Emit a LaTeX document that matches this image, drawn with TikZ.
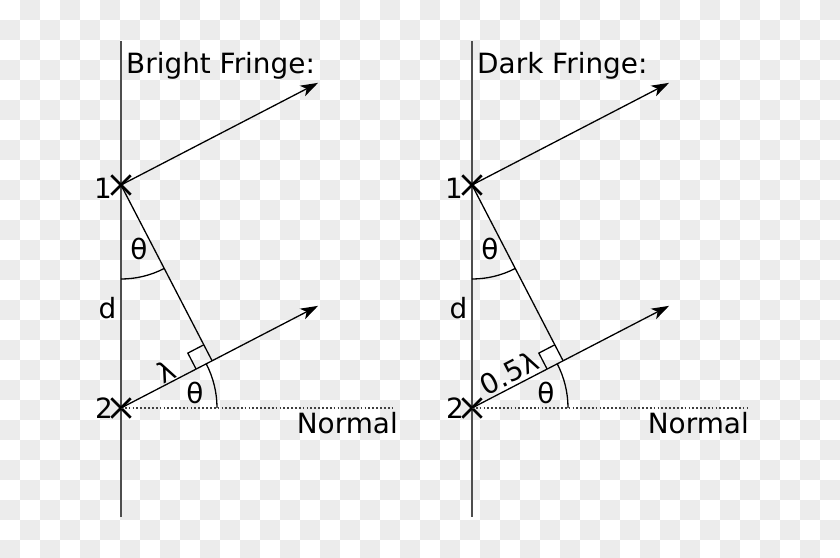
\documentclass[tikz,border=0pt]{standalone}
\usepackage{fontspec}
\setmainfont{DejaVu Sans}
\usepackage{tikz}
\usetikzlibrary{arrows.meta, calc, shapes.misc}
\definecolor{checkgray}{HTML}{ECECEC}
\definecolor{wallgray}{HTML}{4D4D4D}
\tikzstyle{slit_wall}    = [draw=wallgray, line width=1.6pt]
\tikzstyle{slit_mark}    = [cross out, draw=black, line width=2.3pt, minimum size=0.5cm, inner sep=0pt]
\tikzstyle{ray}          = [line width=1.1pt, -{Stealth[length=15pt, width=10pt, inset=4pt]}]
\tikzstyle{construction} = [line width=1.1pt]
\tikzstyle{normal_line}  = [draw=black!75, line width=0.9pt, dash pattern=on 1.5pt off 1.8pt]
\tikzstyle{label_text}   = [inner sep=0pt, font=\fontsize{23.8}{28}\selectfont]

\begin{document}
\begin{tikzpicture}[x=0.03cm, y=0.03cm]
      % Background
      \useasboundingbox (0,0) rectangle (840,-557);
      \begin{scope}
        \clip (0,0) rectangle (840,-557);
        \fill[white] (0,0) rectangle (840,-557);
        \foreach \i in {0,...,41}{
          \foreach \j in {0,...,27}{
            \ifodd\numexpr\i+\j\relax
              \fill[checkgray] (20*\i,-20*\j) rectangle ++(20,-20);
            \fi
          }
        }
      \end{scope}

      % Walls
      \coordinate (bright_top)    at (121,-41);
      \coordinate (bright_bottom) at (121,-517);
      \coordinate (dark_top)      at (472,-41);
      \coordinate (dark_bottom)   at (472,-517);
      \draw [slit_wall] (bright_top) -- (bright_bottom);
      \draw [slit_wall] (dark_top)   -- (dark_bottom);

      % Nodes
      %% Bright fringe
      \node (bright_one) [slit_mark] at (121,-185) {};
      \node (bright_two) [slit_mark] at (121,-408) {};
      \coordinate (bright_tip_one)    at ($(bright_one)+(27.4:222)$);
      \coordinate (bright_tip_two)    at ($(bright_two)+(27.4:222)$);
      \coordinate (bright_foot)       at ($(bright_two)+(27.4:102.6)$);
      \coordinate (bright_normal_end) at (395,-408);
      %% Dark fringe
      \node (dark_one) [slit_mark] at (472,-185) {};
      \node (dark_two) [slit_mark] at (472,-408) {};
      \coordinate (dark_tip_one)    at ($(dark_one)+(27.4:222)$);
      \coordinate (dark_tip_two)    at ($(dark_two)+(27.4:222)$);
      \coordinate (dark_foot)       at ($(dark_two)+(27.4:102.6)$);
      \coordinate (dark_normal_end) at (747,-408);

      % Lines
      \draw [normal_line]  (bright_two.center) -- (bright_normal_end);
      \draw [ray]          (bright_one.center) -- (bright_tip_one);
      \draw [ray]          (bright_two.center) -- (bright_tip_two);
      \draw [construction] (bright_one.center) -- (bright_foot);
      \draw [construction] ($(bright_foot)+(207.4:18)$) -- ++(117.4:18) -- ++(27.4:18);
      \draw [construction] ($(bright_one.center)+(-90:94)$) arc[start angle=-90, end angle=-62.6, radius=94];
      \draw [construction] ($(bright_two.center)+(0:96)$)   arc[start angle=0, end angle=27.4, radius=96];

      \draw [normal_line]  (dark_two.center) -- (dark_normal_end);
      \draw [ray]          (dark_one.center) -- (dark_tip_one);
      \draw [ray]          (dark_two.center) -- (dark_tip_two);
      \draw [construction] (dark_one.center) -- (dark_foot);
      \draw [construction] ($(dark_foot)+(207.4:18)$) -- ++(117.4:18) -- ++(27.4:18);
      \draw [construction] ($(dark_one.center)+(-90:94)$) arc[start angle=-90, end angle=-62.6, radius=94];
      \draw [construction] ($(dark_two.center)+(0:96)$)   arc[start angle=0, end angle=27.4, radius=96];

      % Labels
      \node (bright_title)        [label_text, anchor=base west] at (126,-73)  {Bright Fringe:};
      \node (bright_one_label)    [label_text, anchor=base east] at (112,-198) {1};
      \node (bright_two_label)    [label_text, anchor=base east] at (113,-418) {2};
      \node (bright_d)            [label_text, anchor=base]      at (107.5,-318) {d};
      \node (bright_theta_top)    [label_text]                   at (139,-249) {θ};
      \node (bright_theta_bottom) [label_text]                   at (195,-393) {θ};
      \node (bright_lambda)       [label_text, rotate=27.4]      at (166,-371) {λ};
      \node (bright_normal)       [label_text, anchor=base east] at (398,-433) {Normal};

      \node (dark_title)          [label_text, anchor=base west] at (477,-73)  {Dark Fringe:};
      \node (dark_one_label)      [label_text, anchor=base east] at (463,-198) {1};
      \node (dark_two_label)      [label_text, anchor=base east] at (464,-418) {2};
      \node (dark_d)              [label_text, anchor=base]      at (458.5,-318) {d};
      \node (dark_theta_top)      [label_text]                   at (490,-249) {θ};
      \node (dark_theta_bottom)   [label_text]                   at (546,-393) {θ};
      \node (dark_lambda)         [label_text, rotate=27.4]      at (509,-373) {0.5λ};
      \node (dark_normal)         [label_text, anchor=base east] at (749,-433) {Normal};
    \end{tikzpicture}
\end{document}
